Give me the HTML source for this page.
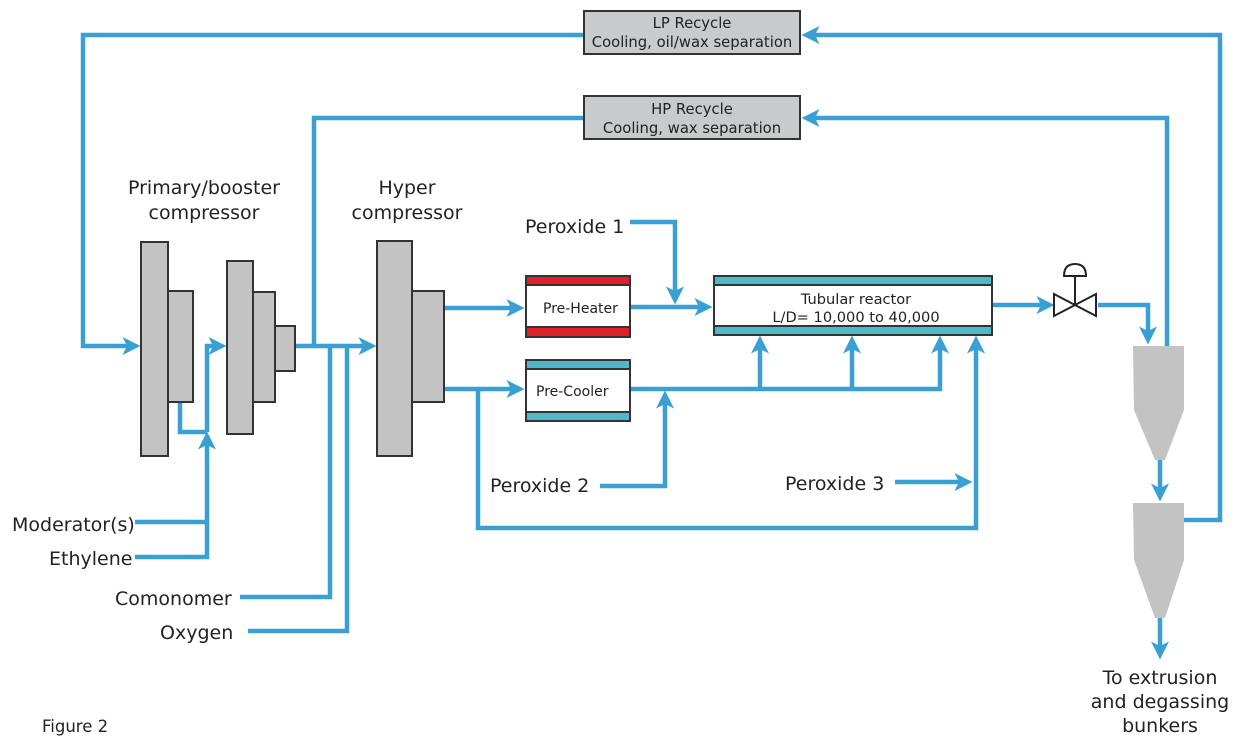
<!DOCTYPE html>
<html><head><style>
body{margin:0;background:#fff;}
svg{display:block;font-family:"DejaVu Sans","Liberation Sans",sans-serif;}
</style></head><body>
<svg width="1241" height="742" viewBox="0 0 1241 742" xmlns="http://www.w3.org/2000/svg">
<defs>
<marker id="a" markerWidth="4" markerHeight="4" refX="3" refY="2" orient="auto" markerUnits="strokeWidth">
<path d="M0,0 L4,2 L0,4 L1,2 Z" fill="#3a9fd2"/></marker>
</defs>
<g fill="none" stroke="#3a9fd2" stroke-width="4.5">
<polyline points="583,35 83,35 83,346 136,346" marker-end="url(#a)"/>
<polyline points="1184,520 1220,520 1220,35 806,35" marker-end="url(#a)"/>
<polyline points="583,118 314,118 314,346"/>
<polyline points="1167,346 1167,118 806,118" marker-end="url(#a)"/>
<polyline points="295,346 372,346" marker-end="url(#a)"/>
<polyline points="180,402 180,432 207,432"/>
<polyline points="207,432 207,346 222,346" marker-end="url(#a)"/>
<polyline points="135,522 207,522"/>
<polyline points="135,557 207,557 207,436" marker-end="url(#a)"/>
<polyline points="240,597 330,597 330,346"/>
<polyline points="248,631 347,631 347,346"/>
<polyline points="444,308 520,308" marker-end="url(#a)"/>
<polyline points="444,389 520,389" marker-end="url(#a)"/>
<polyline points="478,389 478,528 976,528 976,340" marker-end="url(#a)"/>
<polyline points="630,307 708,307" marker-end="url(#a)"/>
<polyline points="630,222 675,222 675,300" marker-end="url(#a)"/>
<polyline points="630,389 940,389 940,340" marker-end="url(#a)"/>
<polyline points="760,389 760,340" marker-end="url(#a)"/>
<polyline points="852,389 852,340" marker-end="url(#a)"/>
<polyline points="600,486 665,486 665,395" marker-end="url(#a)"/>
<polyline points="895,482 968,482" marker-end="url(#a)"/>
<polyline points="992,305 1050,305" marker-end="url(#a)"/>
<polyline points="1098,305 1148,305 1148,340" marker-end="url(#a)"/>
<polyline points="1160,455 1160,497" marker-end="url(#a)"/>
<polyline points="1160,610 1160,655" marker-end="url(#a)"/>
</g>
<g fill="#c3c3c3" stroke="#333" stroke-width="2">
<rect x="141" y="242" width="27" height="214"/>
<rect x="168" y="291" width="25" height="111"/>
<rect x="227" y="261" width="26" height="173"/>
<rect x="253" y="292" width="22" height="110"/>
<rect x="275" y="326" width="20" height="45"/>
<rect x="377" y="241" width="35" height="215"/>
<rect x="412" y="291" width="32" height="111"/>
</g>
<rect x="584" y="11" width="216" height="43" fill="#c9cacc" stroke="#333" stroke-width="2"/>
<text x="692" y="28" font-size="14.8" text-anchor="middle" fill="#222">LP Recycle</text>
<text x="692" y="47" font-size="14.8" text-anchor="middle" fill="#222">Cooling, oil/wax separation</text>
<rect x="584" y="96" width="216" height="43" fill="#c9cacc" stroke="#333" stroke-width="2"/>
<text x="692" y="114" font-size="14.8" text-anchor="middle" fill="#222">HP Recycle</text>
<text x="692" y="133" font-size="14.8" text-anchor="middle" fill="#222">Cooling, wax separation</text>
<rect x="526" y="276" width="104" height="61" fill="#fff" stroke="#333" stroke-width="2"/>
<rect x="527" y="277" width="102" height="7" fill="#e0202a"/>
<rect x="527" y="328" width="102" height="8" fill="#e0202a"/>
<line x1="526" y1="285" x2="630" y2="285" stroke="#333" stroke-width="2"/>
<line x1="526" y1="327" x2="630" y2="327" stroke="#333" stroke-width="2"/>
<text x="543" y="313" font-size="14" fill="#222">Pre-Heater</text>
<rect x="526" y="360" width="104" height="61" fill="#fff" stroke="#333" stroke-width="2"/>
<rect x="527" y="361" width="102" height="7" fill="#4fb8c8"/>
<rect x="527" y="413" width="102" height="7" fill="#4fb8c8"/>
<line x1="526" y1="369" x2="630" y2="369" stroke="#333" stroke-width="2"/>
<line x1="526" y1="412" x2="630" y2="412" stroke="#333" stroke-width="2"/>
<text x="536" y="396" font-size="14" fill="#222">Pre-Cooler</text>
<rect x="714" y="276" width="278" height="59" fill="#fff" stroke="#333" stroke-width="2"/>
<rect x="715" y="277" width="276" height="7" fill="#4fb8c8"/>
<rect x="715" y="327" width="276" height="7" fill="#4fb8c8"/>
<line x1="714" y1="285" x2="992" y2="285" stroke="#333" stroke-width="2"/>
<line x1="714" y1="326" x2="992" y2="326" stroke="#333" stroke-width="2"/>
<text x="856" y="304" font-size="14.6" text-anchor="middle" fill="#222">Tubular reactor</text>
<text x="856" y="322" font-size="14.6" text-anchor="middle" fill="#222">L/D= 10,000 to 40,000</text>
<g stroke="#222" stroke-width="2" fill="#fff">
<path d="M1054,294 L1096,316 L1096,294 L1054,316 Z"/>
<line x1="1075" y1="305" x2="1075" y2="275"/>
<path d="M1064,276 Q1064,264 1075,264 Q1086,264 1086,276 Z"/>
</g>
<path d="M1133,346 L1184,346 L1184,410 L1165,460 L1155,460 L1134,410 Z" fill="#c3c3c3"/>
<path d="M1133,503 L1184,503 L1184,560 L1165,618 L1155,618 L1134,560 Z" fill="#c3c3c3"/>
<g font-size="19" fill="#222">
<text x="204" y="194" text-anchor="middle">Primary/booster</text>
<text x="204" y="219" text-anchor="middle">compressor</text>
<text x="407" y="194" text-anchor="middle">Hyper</text>
<text x="407" y="219" text-anchor="middle">compressor</text>
<text x="525" y="233">Peroxide 1</text>
<text x="490" y="492">Peroxide 2</text>
<text x="785" y="490">Peroxide 3</text>
<text x="12" y="531">Moderator(s)</text>
<text x="49" y="565">Ethylene</text>
<text x="115" y="605">Comonomer</text>
<text x="160" y="639">Oxygen</text>
<text x="1160" y="684" text-anchor="middle">To extrusion</text>
<text x="1160" y="708" text-anchor="middle">and degassing</text>
<text x="1160" y="732" text-anchor="middle">bunkers</text>
</g>
<text x="42" y="732" font-size="16.5" fill="#222">Figure 2</text>
</svg>
</body></html>
